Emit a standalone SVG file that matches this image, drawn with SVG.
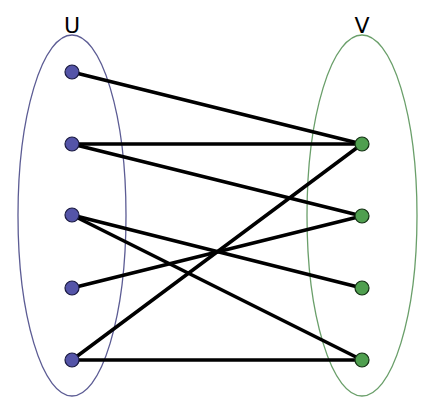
<svg xmlns="http://www.w3.org/2000/svg" width="434" height="400" viewBox="0 0 434 400">
<style>
.set{fill:none;stroke-width:1.3}
.u{fill:#5454a8;stroke:#1a1a40;stroke-width:1.2}
.v{fill:#4f9f4f;stroke:#143014;stroke-width:1.2}
.e{stroke:#000;stroke-width:3.5;stroke-linecap:round}
text{font-family:"DejaVu Sans","Liberation Sans",sans-serif;font-size:22px;fill:#000;text-anchor:middle}
</style>
<rect width="434" height="400" fill="#fff"/>
<g id="setU"><ellipse class="set" cx="72" cy="215.5" rx="54" ry="180.5" stroke="#5c5c94"/><text x="72" y="33">U</text></g>
<g id="setV"><ellipse class="set" cx="362" cy="215.5" rx="55" ry="180.5" stroke="#6a9f6a"/><text x="362" y="33">V</text></g>
<g id="edges">
<line class="e" x1="72" y1="72" x2="362" y2="144"/>
<line class="e" x1="72" y1="144" x2="362" y2="144"/>
<line class="e" x1="72" y1="144" x2="362" y2="216"/>
<line class="e" x1="72" y1="215" x2="362" y2="288"/>
<line class="e" x1="72" y1="215" x2="362" y2="360"/>
<line class="e" x1="72" y1="288" x2="362" y2="216"/>
<line class="e" x1="72" y1="360" x2="362" y2="144"/>
<line class="e" x1="72" y1="360" x2="362" y2="360"/>
</g>
<g id="u1"><circle class="u" cx="72" cy="72" r="7"/></g>
<g id="u2"><circle class="u" cx="72" cy="144" r="7"/></g>
<g id="u3"><circle class="u" cx="72" cy="215" r="7"/></g>
<g id="u4"><circle class="u" cx="72" cy="288" r="7"/></g>
<g id="u5"><circle class="u" cx="72" cy="360" r="7"/></g>
<g id="v1"><circle class="v" cx="362" cy="144" r="7"/></g>
<g id="v2"><circle class="v" cx="362" cy="216" r="7"/></g>
<g id="v3"><circle class="v" cx="362" cy="288" r="7"/></g>
<g id="v4"><circle class="v" cx="362" cy="360" r="7"/></g>
</svg>
